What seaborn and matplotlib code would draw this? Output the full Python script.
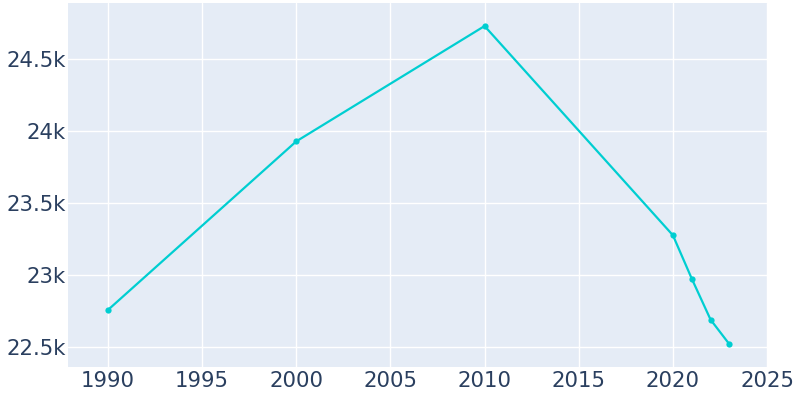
import matplotlib
matplotlib.use("Agg")
import matplotlib.pyplot as plt
import matplotlib.ticker as mticker
import pandas as pd
import seaborn as sns

# -------- DATA --------
years = [1990, 2000, 2010, 2020, 2021, 2022, 2023]
population = [22757, 23928, 24729, 23276, 22975, 22690, 22519]

df = pd.DataFrame({"Year": years, "Population": population})

# -------- STYLE --------
sns.set_style("darkgrid", {
    "axes.facecolor": "#E5ECF6",
    "grid.color": "white",
    "axes.edgecolor": "#E5ECF6",
})
plt.rcParams["font.family"] = ["DejaVu Sans"]

fig = plt.figure(figsize=(8, 4), dpi=100)
ax = fig.add_axes([0.085, 0.0825, 0.875, 0.91])

sns.lineplot(data=df, x="Year", y="Population", ax=ax,
             color="#00CED1", linewidth=1.6, marker="o", markersize=4.5,
             markeredgewidth=0)

ax.set_xlim(1987.88, 2025.05)
ax.set_ylim(22361, 24889)
ax.set_xticks([1990, 1995, 2000, 2005, 2010, 2015, 2020, 2025])
ax.set_yticks([22500, 23000, 23500, 24000, 24500])
ax.yaxis.set_major_formatter(mticker.FuncFormatter(
    lambda v, p: f"{v / 1000:g}k"))

ax.grid(True, color="white", linewidth=1)
ax.tick_params(axis="both", length=0, labelsize=15.3, labelcolor="#2a3f5f")
ax.tick_params(axis="x", pad=3)
ax.tick_params(axis="y", pad=1.5)
ax.set_xlabel("")
ax.set_ylabel("")
for s in ax.spines.values():
    s.set_visible(False)

plt.savefig("out.png", dpi=100)
